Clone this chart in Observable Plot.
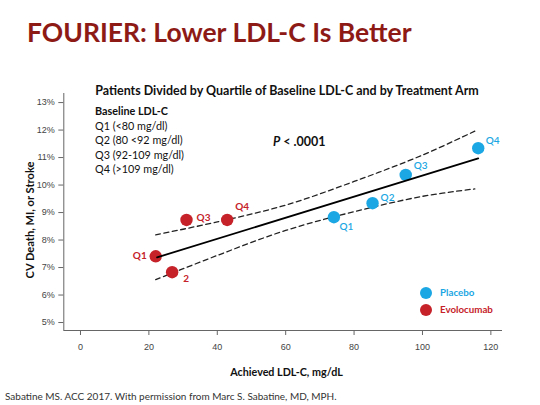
<!DOCTYPE html>
<html><head><meta charset="utf-8">
<script src="https://cdn.jsdelivr.net/npm/d3@7"></script>
<script src="https://cdn.jsdelivr.net/npm/@observablehq/plot@0.6"></script>
<style>
body{margin:0;background:#fff;}
#wrap{position:relative;width:540px;height:405px;overflow:hidden;font-family:Lato,"Open Sans",sans-serif;}
#chart{position:absolute;left:0;top:0;}
.abs{position:absolute;white-space:nowrap;line-height:1;}
#title{left:27px;top:18.5px;font-size:26.5px;font-weight:bold;color:#8E1A16;}
#subtitle{left:287px;top:85px;transform:translateX(-50%);font-size:12.5px;font-weight:bold;color:#111;}
#notes{left:95px;top:104px;font-size:12.5px;color:#111;line-height:14.6px;}
#notes b{font-weight:bold;}
#pval{left:273px;top:136px;font-size:12.5px;font-weight:bold;color:#111;}
#xlab{left:286.5px;top:367px;transform:translateX(-50%);font-size:10px;font-weight:bold;color:#111;}
#ylab{left:30px;top:220px;transform:translate(-50%,-50%) rotate(-90deg);font-size:11.5px;font-weight:bold;color:#111;}
#caption{left:5px;top:392px;font-size:10px;color:#333;}
.leg{font-size:10.5px;font-weight:bold;}
.leg span.c{position:absolute;width:12px;height:12px;border-radius:50%;left:-20px;top:-1px;}
</style></head><body>
<div id="wrap">
  <div id="chart"></div>
  <div id="title" class="abs"></div>
  <div id="subtitle" class="abs"></div>
  <div id="notes" class="abs"></div>
  <div id="pval" class="abs"><i>P</i> &lt; .0001</div>
  <div id="xlab" class="abs"></div>
  <div id="ylab" class="abs"></div>
  <div id="caption" class="abs"></div>
  <div id="legend"></div>
</div>
<script>
// ---- data ----
const titleText = "FOURIER: Lower LDL-C Is Better";
const subtitleText = "Patients Divided by Quartile of Baseline LDL-C and by Treatment Arm";
const notesHeader = "Baseline LDL-C";
const notesLines = ["Q1 (<80 mg/dl)", "Q2 (80 <92 mg/dl)", "Q3 (92-109 mg/dl)", "Q4 (>109 mg/dl)"];
const xLabel = "Achieved LDL-C, mg/dL";
const yLabel = "CV Death, MI, or Stroke";
const captionText = "Sabatine MS. ACC 2017. With permission from Marc S. Sabatine, MD, MPH.";
const seriesNames = ["Placebo", "Evolocumab"];
const seriesColors = ["#1BA7E3", "#C5222A"];

const evoLabels = ["Q1", "2", "Q3", "Q4"];
const evoLDL = [22.0, 26.8, 31.0, 42.9];
const evoRate = [7.41, 6.83, 8.73, 8.73];

const plaLabels = ["Q1", "Q2", "Q3", "Q4"];
const plaLDL = [74.1, 85.4, 95.1, 116.3];
const plaRate = [8.83, 9.34, 10.37, 11.34];

const fitLDL = [22.4, 116.3];
const fitRate = [7.37, 10.97];

const bandLDL = [22, 40, 60, 80, 100, 115.3];
const bandUpper = [8.19, 8.66, 9.27, 10.13, 11.09, 11.96];
const bandLower = [6.56, 7.44, 8.35, 9.03, 9.59, 9.86];

const xTicks = [0, 20, 40, 60, 80, 100, 120];
const yTicks = [5, 6, 7, 8, 9, 10, 11, 12, 13];
const xDomain = [-4.88, 123.4];
const yDomain = [4.71, 13.33];

// ---- label offsets (style) ----
const labelStyle = {
  "Evolocumab|Q1": {dx: -9, dy: 0, anchor: "end"},
  "Evolocumab|2": {dx: 14, dy: 7, anchor: "middle"},
  "Evolocumab|Q3": {dx: 17, dy: -2.5, anchor: "middle"},
  "Evolocumab|Q4": {dx: 15, dy: -13, anchor: "middle"},
  "Placebo|Q1": {dx: 12.5, dy: 10, anchor: "middle"},
  "Placebo|Q2": {dx: 15, dy: -5.5, anchor: "middle"},
  "Placebo|Q3": {dx: 15, dy: -9.5, anchor: "middle"},
  "Placebo|Q4": {dx: 14.5, dy: -7.5, anchor: "middle"}
};

const points = [
  ...plaLabels.map((q, i) => ({series: seriesNames[0], q, x: plaLDL[i], y: plaRate[i]})),
  ...evoLabels.map((q, i) => ({series: seriesNames[1], q, x: evoLDL[i], y: evoRate[i]}))
];
const fit = fitLDL.map((x, i) => ({x, y: fitRate[i]}));
const upper = bandLDL.map((x, i) => ({x, y: bandUpper[i]}));
const lower = bandLDL.map((x, i) => ({x, y: bandLower[i]}));
const colorOf = s => seriesColors[seriesNames.indexOf(s)];

const labelMarks = points.map(p => {
  const st = labelStyle[p.series + "|" + p.q];
  return Plot.text([p], {x: "x", y: "y", text: "q", dx: st.dx, dy: st.dy, textAnchor: st.anchor,
    fill: colorOf(p.series), fontSize: 10, fontWeight: p.series === "Evolocumab" ? "bold" : "600",
    fontFamily: "Lato, 'Open Sans', sans-serif"});
});

const chart = Plot.plot({
  width: 540, height: 405,
  marginTop: 93, marginBottom: 75, marginLeft: 63.3, marginRight: 38,
  style: {fontFamily: "'Liberation Sans', Arial, sans-serif", fontSize: "9px", color: "#444", background: "transparent"},
  x: {domain: xDomain},
  y: {domain: yDomain},
  marks: [
    Plot.axisX({ticks: xTicks, tickSize: 5, tickPadding: 8, label: null, stroke: "#666", fill: "#444"}),
    Plot.axisY({ticks: yTicks, tickSize: 5, tickPadding: 4, label: null, tickFormat: d => d + "%", stroke: "#666", fill: "#444"}),
    Plot.ruleX([xDomain[0]], {stroke: "#666", strokeWidth: 1}),
    Plot.ruleY([yDomain[0]], {stroke: "#666", strokeWidth: 1}),
    Plot.line(upper, {x: "x", y: "y", curve: "catmull-rom", stroke: "#222", strokeWidth: 1.3, strokeDasharray: "5,3.5"}),
    Plot.line(lower, {x: "x", y: "y", curve: "catmull-rom", stroke: "#222", strokeWidth: 1.3, strokeDasharray: "5,3.5"}),
    Plot.dot(points, {x: "x", y: "y", r: 6.2, fill: d => colorOf(d.series), stroke: "none"}),
    Plot.line(fit, {x: "x", y: "y", stroke: "#000", strokeWidth: 1.8}),
    ...labelMarks
  ]
});
document.getElementById("chart").append(chart);

document.getElementById("title").textContent = titleText;
document.getElementById("subtitle").textContent = subtitleText;
const notes = document.getElementById("notes");
const hb = document.createElement("b"); hb.textContent = notesHeader; notes.append(hb);
const lineSpans = [];
notesLines.forEach(t => { notes.append(document.createElement("br")); const s = document.createElement("span"); s.textContent = t; notes.append(s); lineSpans.push(s); });
document.getElementById("xlab").textContent = xLabel;
document.getElementById("ylab").textContent = yLabel;
document.getElementById("caption").textContent = captionText;

const legend = document.getElementById("legend");
const legTops = [288, 305];
const legEls = [];
seriesNames.forEach((s, i) => {
  const d = document.createElement("div");
  d.className = "abs leg";
  d.style.left = "440px"; d.style.top = legTops[i] + "px"; d.style.color = seriesColors[i];
  const c = document.createElement("span"); c.className = "c"; c.style.background = seriesColors[i];
  const t = document.createElement("span"); t.textContent = s;
  d.append(c); d.append(t);
  legend.append(d); legEls.push({d, t});
});

// fit text widths to the reference's measured widths (layout only; untransformed widths)
function fitWidth(el, measureEl, target) {
  const fs = parseFloat(getComputedStyle(el).fontSize);
  const w = measureEl.offsetWidth;
  if (w > 0) el.style.fontSize = (fs * target / w).toFixed(2) + "px";
}
function fitSelf(id, target) {
  const el = document.getElementById(id);
  fitWidth(el, el, target);
}
fitSelf("title", 385);
fitSelf("subtitle", 384);
fitSelf("xlab", 113);
fitSelf("ylab", 117);
fitSelf("caption", 332);
fitSelf("pval", 53);
fitWidth(notes, lineSpans[2], 89);
fitWidth(legEls[1].d, legEls[1].t, 53);
legEls[0].d.style.fontSize = legEls[1].d.style.fontSize;
</script>
</body></html>
